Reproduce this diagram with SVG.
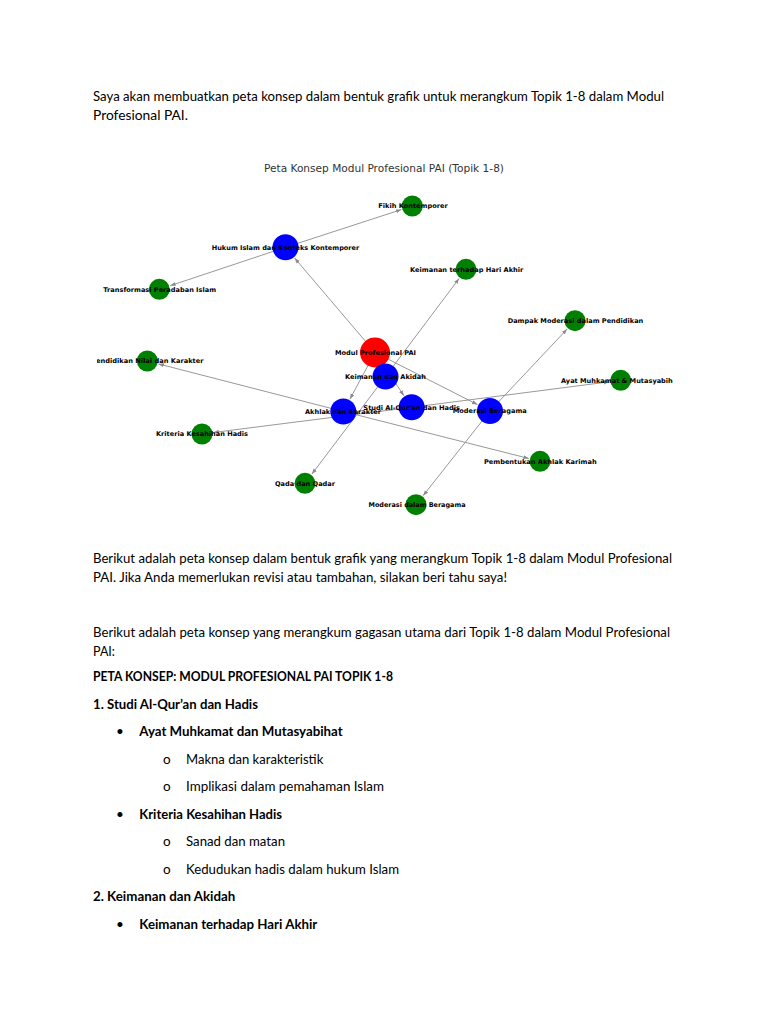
<svg xmlns="http://www.w3.org/2000/svg" width="768" height="1024" viewBox="0 0 768 1024">
<style>
.body{font-family:Lato,"Liberation Sans",sans-serif;font-size:13.5px;fill:#000}
.b{font-weight:bold}
.lbl{font-family:"DejaVu Sans",sans-serif;font-size:6.5px;font-weight:bold;fill:#000;text-anchor:middle}
.title{font-family:"DejaVu Sans",sans-serif;font-size:10.5px;fill:#333;text-anchor:middle}
.edge{stroke:#8c8c8c;stroke-width:0.9;fill:none;marker-end:url(#arr)}
.red{fill:#ff0000}.blue{fill:#0000ff}.green{fill:#008000}
</style>
<defs>
<marker id="arr" markerUnits="userSpaceOnUse" markerWidth="6" markerHeight="5" refX="5.5" refY="2" orient="auto" viewBox="0 0 6 4">
<path d="M0,0 L5.5,2 L0,4 z" fill="#8c8c8c"/>
</marker>
<clipPath id="gclip"><rect x="97" y="140" width="576" height="395"/></clipPath>
</defs>
<rect width="768" height="1024" fill="#fff"/>

<g id="intro">
<text class="body" x="93" y="100.5" textLength="571" lengthAdjust="spacingAndGlyphs">Saya akan membuatkan peta konsep dalam bentuk grafik untuk merangkum Topik 1-8 dalam Modul</text>
<text class="body" x="93" y="119.5" textLength="95" lengthAdjust="spacingAndGlyphs">Profesional PAI.</text>
</g>

<g id="graph" clip-path="url(#gclip)">
<text class="title" x="384" y="171.5" textLength="240" lengthAdjust="spacingAndGlyphs">Peta Konsep Modul Profesional PAI (Topik 1-8)</text>
<g id="connectors">
<line class="edge" x1="375" y1="352.5" x2="294.6" y2="258"/>
<line class="edge" x1="375" y1="352.5" x2="379.9" y2="363.7"/>
<line class="edge" x1="375" y1="352.5" x2="349.9" y2="399.2"/>
<line class="edge" x1="375" y1="352.5" x2="403.9" y2="395.7"/>
<line class="edge" x1="375" y1="352.5" x2="477.5" y2="404.6"/>
<line class="edge" x1="285.5" y1="247.3" x2="401.4" y2="209.6"/>
<line class="edge" x1="285.5" y1="247.3" x2="170.2" y2="285.7"/>
<line class="edge" x1="385.5" y1="376.5" x2="459.1" y2="278.5"/>
<line class="edge" x1="385.5" y1="376.5" x2="311.9" y2="474.1"/>
<line class="edge" x1="343.3" y1="411.5" x2="158.4" y2="363.9"/>
<line class="edge" x1="343.3" y1="411.5" x2="528.9" y2="458.5"/>
<line class="edge" x1="411.7" y1="407.3" x2="609.3" y2="381.8"/>
<line class="edge" x1="411.7" y1="407.3" x2="213.4" y2="432.5"/>
<line class="edge" x1="490" y1="411" x2="423.1" y2="495.7"/>
<line class="edge" x1="490" y1="411" x2="567.1" y2="329.1"/>
</g>
<g id="n-modul"><circle class="red" cx="375" cy="352.5" r="15"/><text class="lbl" x="375.5" y="354.8" textLength="81" lengthAdjust="spacingAndGlyphs">Modul Profesional PAI</text></g>
<g id="n-hukum"><circle class="blue" cx="285.5" cy="247.3" r="13"/><text class="lbl" x="285.5" y="249.6" textLength="147.6" lengthAdjust="spacingAndGlyphs">Hukum Islam dan Konteks Kontemporer</text></g>
<g id="n-fikih"><circle class="green" cx="412.3" cy="206" r="10.5"/><text class="lbl" x="413" y="208.3" textLength="69.4" lengthAdjust="spacingAndGlyphs">Fikih Kontemporer</text></g>
<g id="n-transformasi"><circle class="green" cx="159.3" cy="289.3" r="10.5"/><text class="lbl" x="159.7" y="291.6" textLength="112.7" lengthAdjust="spacingAndGlyphs">Transformasi Peradaban Islam</text></g>
<g id="n-hariakhir"><circle class="green" cx="466" cy="269.3" r="10.5"/><text class="lbl" x="466.7" y="271.6" textLength="113.3" lengthAdjust="spacingAndGlyphs">Keimanan terhadap Hari Akhir</text></g>
<g id="n-dampak"><circle class="green" cx="575" cy="320.7" r="10.5"/><text class="lbl" x="575.5" y="323" textLength="135.6" lengthAdjust="spacingAndGlyphs">Dampak Moderasi dalam Pendidikan</text></g>
<g id="n-pendidikan"><circle class="green" cx="147.3" cy="361" r="10.5"/><text class="lbl" x="147.3" y="363.3" textLength="112.6" lengthAdjust="spacingAndGlyphs">Pendidikan Nilai dan Karakter</text></g>
<g id="n-keimanan"><circle class="blue" cx="385.5" cy="376.5" r="13"/><text class="lbl" x="385.5" y="378.8" textLength="81" lengthAdjust="spacingAndGlyphs">Keimanan dan Akidah</text></g>
<g id="n-ayat"><circle class="green" cx="620.7" cy="380.3" r="10.5"/><text class="lbl" x="620.7" y="382.6" textLength="119.4" lengthAdjust="spacingAndGlyphs">Ayat Muhkamat &amp; Mutasyabihat</text></g>
<g id="n-akhlak"><circle class="blue" cx="343.3" cy="411.5" r="13"/><text class="lbl" x="343" y="413.8" textLength="76" lengthAdjust="spacingAndGlyphs">Akhlak dan Karakter</text></g>
<g id="n-studi"><circle class="blue" cx="411.7" cy="407.3" r="13"/><text class="lbl" x="411.7" y="409.6" textLength="96.7" lengthAdjust="spacingAndGlyphs">Studi Al-Qur'an dan Hadis</text></g>
<g id="n-moderasi"><circle class="blue" cx="490" cy="411" r="13"/><text class="lbl" x="489.7" y="413.3" textLength="74" lengthAdjust="spacingAndGlyphs">Moderasi Beragama</text></g>
<g id="n-kriteria"><circle class="green" cx="202" cy="434" r="10.5"/><text class="lbl" x="202" y="436.3" textLength="92" lengthAdjust="spacingAndGlyphs">Kriteria Kesahihan Hadis</text></g>
<g id="n-pembentukan"><circle class="green" cx="540" cy="461.3" r="10.5"/><text class="lbl" x="540.3" y="463.6" textLength="112.7" lengthAdjust="spacingAndGlyphs">Pembentukan Akhlak Karimah</text></g>
<g id="n-qada"><circle class="green" cx="305" cy="483.3" r="10.5"/><text class="lbl" x="305" y="485.6" textLength="60" lengthAdjust="spacingAndGlyphs">Qada dan Qadar</text></g>
<g id="n-moderasidalam"><circle class="green" cx="416" cy="504.7" r="10.5"/><text class="lbl" x="417" y="507" textLength="97" lengthAdjust="spacingAndGlyphs">Moderasi dalam Beragama</text></g>
</g>

<g id="outro">
<text class="body" x="93" y="562.5" textLength="579" lengthAdjust="spacingAndGlyphs">Berikut adalah peta konsep dalam bentuk grafik yang merangkum Topik 1-8 dalam Modul Profesional</text>
<text class="body" x="93" y="581.5" textLength="414" lengthAdjust="spacingAndGlyphs">PAI. Jika Anda memerlukan revisi atau tambahan, silakan beri tahu saya!</text>
<text class="body" x="93" y="636.5" textLength="577" lengthAdjust="spacingAndGlyphs">Berikut adalah peta konsep yang merangkum gagasan utama dari Topik 1-8 dalam Modul Profesional</text>
<text class="body" x="93" y="655.5" textLength="22" lengthAdjust="spacingAndGlyphs">PAI:</text>
<text class="body b" x="93" y="681" textLength="300" lengthAdjust="spacingAndGlyphs">PETA KONSEP: MODUL PROFESIONAL PAI TOPIK 1-8</text>
<text class="body b" x="93" y="708.5" textLength="165" lengthAdjust="spacingAndGlyphs">1. Studi Al-Qur’an dan Hadis</text>
<text class="body" x="116" y="736">•</text>
<text class="body b" x="139.3" y="736" textLength="203.4" lengthAdjust="spacingAndGlyphs">Ayat Muhkamat dan Mutasyabihat</text>
<text class="body" x="163" y="763.5">o</text>
<text class="body" x="186" y="763.5" textLength="137.3" lengthAdjust="spacingAndGlyphs">Makna dan karakteristik</text>
<text class="body" x="163" y="791">o</text>
<text class="body" x="186" y="791" textLength="198" lengthAdjust="spacingAndGlyphs">Implikasi dalam pemahaman Islam</text>
<text class="body" x="116" y="818.5">•</text>
<text class="body b" x="139.3" y="818.5" textLength="142.7" lengthAdjust="spacingAndGlyphs">Kriteria Kesahihan Hadis</text>
<text class="body" x="163" y="846">o</text>
<text class="body" x="186" y="846" textLength="99" lengthAdjust="spacingAndGlyphs">Sanad dan matan</text>
<text class="body" x="163" y="873.5">o</text>
<text class="body" x="186" y="873.5" textLength="213" lengthAdjust="spacingAndGlyphs">Kedudukan hadis dalam hukum Islam</text>
<text class="body b" x="93" y="901" textLength="142.3" lengthAdjust="spacingAndGlyphs">2. Keimanan dan Akidah</text>
<text class="body" x="116" y="928.5">•</text>
<text class="body b" x="139.3" y="928.5" textLength="178" lengthAdjust="spacingAndGlyphs">Keimanan terhadap Hari Akhir</text>
</g>
</svg>
